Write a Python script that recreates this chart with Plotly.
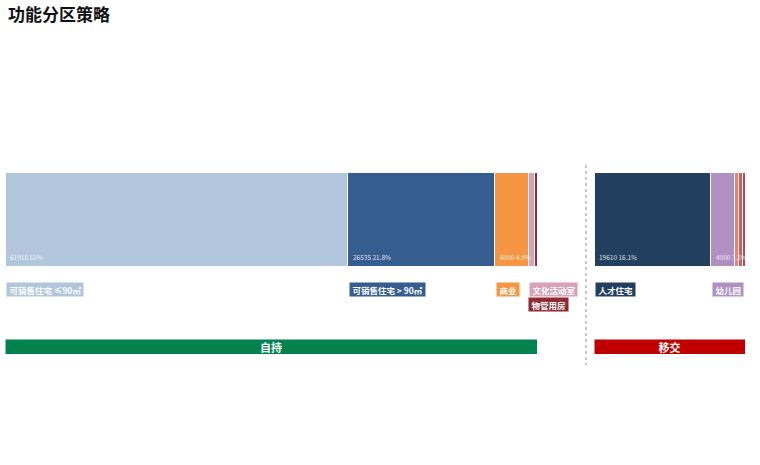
import plotly.graph_objects as go

# ---------------- data ----------------
left_names = ["可销售住宅 ≤90㎡", "可销售住宅 > 90㎡", "商业", "文化活动室", "物管用房"]
left_values = [61915, 26535, 6000, 1100, 500]
left_pct = ["51%", "21.8%", "4.9%", "", ""]

right_names = ["人才住宅", "幼儿园", "配套A", "配套B", "配套C"]
right_values = [19610, 4000, 700, 700, 340]
right_pct = ["16.1%", "3.2%", "", "", ""]

group_names = ["自持", "移交"]

# ---------------- styles ----------------
left_colors = ["#b1c6dc", "#365d8f", "#f59642", "#d7a1b8", "#8e2b33"]
right_colors = ["#233f60", "#b090c2", "#e8836f", "#d45c62", "#b9474d"]
group_colors = ["#00834f", "#c00000"]
left_chip_row = [0, 0, 0, 0, 1]      # None = no chip
right_chip_row = [0, 0, None, None, None]

W, H = 760, 465
FONT = "Noto Sans CJK SC"


def px(x):
    return x / W


def py(y):
    return 1 - y / H


fig = go.Figure()
annotations = []


def add_group(names, values, pcts, colors, chip_rows, xa, ya):
    base = 0
    bases = []
    for n, v, p, c, r in zip(names, values, pcts, colors, chip_rows):
        bases.append(base)
        fig.add_trace(go.Bar(
            x=[v], y=[0], orientation="h", name=n, width=1,
            xaxis=xa, yaxis=ya,
            marker=dict(color=c, line=dict(color="white", width=1)),
            hovertemplate=f"{n}: {v}<extra></extra>",
        ))
        if p:
            annotations.append(dict(
                x=base, xref=xa, xanchor="left", xshift=3,
                y=py(266), yref="paper", yanchor="bottom", yshift=2,
                text=f"{v} {p}", showarrow=False,
                font=dict(size=6.5, color="rgba(255,255,255,0.85)", family=FONT),
            ))
        base += v
    for i, (n, c, r) in enumerate(zip(names, colors, chip_rows)):
        if r is None:
            continue
        bx = bases[i] if r == 0 else bases[i - 1]
        annotations.append(dict(
            x=bx, xref=xa, xanchor="left", xshift=1 if r == 0 else 0,
            y=py(289 + 15 * r), yref="paper", yanchor="middle",
            text="&nbsp;" + n + "&nbsp;", showarrow=False, bgcolor=c, borderpad=0.5,
            font=dict(size=8.5, color="white", family=FONT, weight="bold"),
        ))
    return base


left_total = add_group(left_names, left_values, left_pct, left_colors,
                       left_chip_row, "x", "y")
right_total = add_group(right_names, right_values, right_pct, right_colors,
                        right_chip_row, "x2", "y2")

for g, tot, c, xa, ya in zip(group_names, [left_total, right_total],
                             group_colors, ["x", "x2"], ["y3", "y4"]):
    fig.add_trace(go.Bar(
        x=[tot], y=[0], orientation="h", width=1, name=g,
        xaxis=xa, yaxis=ya, text=[g], textposition="inside",
        insidetextanchor="middle", constraintext="none",
        textfont=dict(color="white", size=11, family=FONT, weight="bold"),
        marker=dict(color=c, line=dict(color="#ffffff", width=0.5)),
        hovertemplate=f"{g}: {tot}<extra></extra>",
    ))

annotations.append(dict(
    x=px(6), xref="paper", xanchor="left",
    y=1, yref="paper", yanchor="top", yshift=1,
    text="功能分区策略", showarrow=False,
    font=dict(size=17, color="#111111", family=FONT, weight="bold"),
))

hidden = dict(visible=False, fixedrange=True)
fig.update_layout(
    width=W, height=H,
    margin=dict(l=0, r=0, t=0, b=0),
    paper_bgcolor="white", plot_bgcolor="rgba(0,0,0,0)",
    barmode="stack", showlegend=False,
    xaxis=dict(domain=[px(5), px(537)], range=[0, left_total], anchor="y", **hidden),
    xaxis2=dict(domain=[px(594), px(745)], range=[0, right_total], anchor="y2", **hidden),
    yaxis=dict(domain=[py(266), py(172)], range=[-0.5, 0.5], anchor="x", **hidden),
    yaxis2=dict(domain=[py(266), py(172)], range=[-0.5, 0.5], anchor="x2", **hidden),
    yaxis3=dict(domain=[py(354), py(339)], range=[-0.5, 0.5], anchor="x", **hidden),
    yaxis4=dict(domain=[py(354), py(339)], range=[-0.5, 0.5], anchor="x2", **hidden),
    annotations=annotations,
    shapes=[dict(type="line", xref="paper", yref="paper",
                 x0=px(586), x1=px(586), y0=py(165), y1=py(365),
                 line=dict(color="#8a8a8a", width=1, dash="dot"))],
)

fig.write_html("out.html", config={"displayModeBar": False},
               post_script="document.body.style.margin='0';document.body.style.overflow='hidden';")
